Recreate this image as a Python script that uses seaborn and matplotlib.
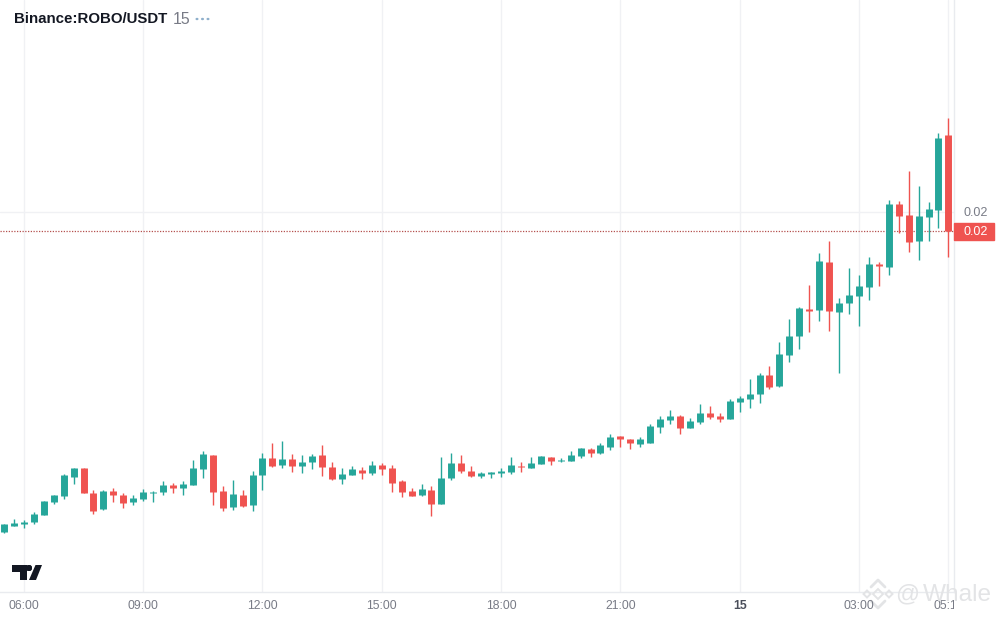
import matplotlib
matplotlib.use("Agg")
import matplotlib.pyplot as plt
from matplotlib.patches import Circle, Polygon, Rectangle
import pandas as pd
import seaborn as sns

# prices are kept as counts of this tick size
TICK = 0.00005

opens = [88, 94, 96, 98, 105, 118, 124, 143, 152, 127, 111, 129, 125, 118, 121, 127,
         128, 135, 132, 135, 151, 165, 129, 113, 125, 115, 145, 162, 155, 161, 154, 158,
         165, 153, 141, 145, 150, 147, 155, 152, 139, 129, 125, 130, 116, 142, 157, 149,
         144, 146, 147, 148, 154, 152, 156, 163, 159, 159, 164, 171, 167, 173, 184, 181,
         176, 177, 193, 200, 204, 192, 198, 207, 204, 201, 218, 221, 226, 245, 234, 265,
         284, 311, 310, 358, 308, 317, 324, 333, 356, 353, 416, 405, 379, 403, 410, 485]
closes = [96, 97, 98, 106, 119, 125, 145, 152, 127, 109, 129, 125, 117, 122, 128, 128,
          135, 132, 136, 152, 166, 128, 112, 126, 114, 145, 162, 154, 161, 154, 158, 164,
          153, 141, 146, 151, 147, 155, 151, 137, 128, 124, 131, 116, 142, 157, 149, 144,
          147, 148, 149, 155, 153, 157, 164, 159, 160, 165, 172, 167, 175, 183, 181, 177,
          181, 194, 201, 204, 192, 199, 207, 203, 201, 219, 222, 226, 245, 233, 266, 284,
          312, 309, 359, 309, 317, 325, 334, 356, 354, 416, 404, 378, 404, 411, 482, 389]
highs = [96, 101, 100, 108, 119, 125, 146, 152, 152, 130, 130, 132, 127, 125, 131, 129,
         139, 137, 139, 160, 169, 165, 134, 140, 130, 149, 167, 177, 179, 166, 165, 166,
         175, 158, 152, 154, 153, 159, 157, 155, 140, 132, 136, 134, 163, 167, 165, 154,
         148, 148, 152, 163, 158, 163, 164, 163, 162, 169, 172, 172, 177, 186, 184, 181,
         183, 196, 204, 210, 205, 202, 216, 214, 207, 221, 224, 241, 247, 254, 278, 301,
         313, 335, 367, 379, 322, 352, 345, 363, 358, 420, 419, 449, 434, 418, 487, 502]
lows = [87, 94, 92, 96, 105, 116, 121, 136, 127, 106, 110, 118, 112, 115, 119, 118,
        125, 127, 125, 135, 142, 115, 109, 110, 113, 109, 130, 153, 152, 148, 147, 151,
        144, 140, 136, 145, 141, 145, 145, 128, 123, 124, 124, 104, 116, 140, 147, 143,
        142, 142, 143, 146, 148, 152, 156, 155, 158, 159, 162, 163, 166, 170, 173, 171,
        173, 177, 187, 196, 186, 192, 196, 201, 198, 201, 208, 212, 217, 231, 233, 258,
        271, 288, 299, 289, 247, 306, 294, 320, 334, 345, 387, 368, 360, 379, 392, 363]

tick_positions = [2, 14, 26, 38, 50, 62, 74, 86, 95]
tick_labels = ["06:00", "09:00", "12:00", "15:00", "18:00", "21:00", "15", "03:00", "05:15"]

GREEN = "#26a69a"
RED = "#ef5350"
GRID = "#f0f1f4"
GREY = "#787b86"

sns.set_theme(style="white")
plt.rcParams["font.family"] = ["Liberation Sans", "DejaVu Sans"]


def px(x, y):
    # figure fraction from pixel position, y measured from the top
    return x / 1000, 1 - y / 620


rows_wick = []
rows_body = []
for i in range(len(opens)):
    side = "up" if closes[i] >= opens[i] else "down"
    rows_wick.append((i, highs[i] * TICK, side))
    rows_wick.append((i, lows[i] * TICK, side))
    rows_body.append((i, opens[i] * TICK, side))
    rows_body.append((i, closes[i] * TICK, side))
wicks = pd.DataFrame(rows_wick, columns=["candle", "price", "side"])
bodies = pd.DataFrame(rows_body, columns=["candle", "price", "side"])
palette = {"up": GREEN, "down": RED}

fig = plt.figure(figsize=(10, 6.2), dpi=100)
ax = fig.add_axes([0, 28 / 620, 0.954, 592 / 620])

for frame, width in ((wicks, 1.0), (bodies, 5.0)):
    sns.lineplot(data=frame, x="candle", y="price", hue="side", units="candle",
                 estimator=None, sort=False, palette=palette, legend=False,
                 linewidth=width, solid_capstyle="butt", ax=ax, zorder=3)

ax.set_xlim(-0.40, 95.56)
ax.set_ylim(28 * TICK, 620 * TICK)
ax.set_xlabel("")
ax.set_ylabel("")
ax.set_xticks(tick_positions)
ax.set_xticklabels([])
ax.set_yticks([408 * TICK])
ax.set_yticklabels([])
ax.tick_params(length=0)
ax.grid(True, color=GRID, linewidth=1)
ax.set_axisbelow(True)
for name in ("left", "top"):
    ax.spines[name].set_visible(False)
for name in ("bottom", "right"):
    ax.spines[name].set_color("#e9ebef")
    ax.spines[name].set_linewidth(1)

# last price line
ax.axhline(closes[-1] * TICK, color="#b5504e", linewidth=0.9, linestyle=(0, (1, 1.2)), zorder=2)

# header
x, y = px(14, 19)
fig.text(x, y, "Binance:ROBO/USDT", fontsize=10.8, fontweight="bold", color="#131722", va="center")
x, y = px(173, 19)
fig.text(x, y, "15", fontsize=11.4, color=GREY, va="center")
for dot in (197, 202.5, 208):
    fig.add_artist(Circle(px(dot, 19), 0.0008, color="#8fb0cc", transform=fig.transFigure))

# price scale labels
x, y = px(975.5, 213)
fig.text(x, y, f"{408 * TICK:.2f}", fontsize=9, color=GREY, ha="center", va="center")
fig.add_artist(Rectangle(px(954, 240), 0.040, 17 / 620, color=RED, transform=fig.transFigure))
x, y = px(975.5, 232)
fig.text(x, y, f"{closes[-1] * TICK:.2f}", fontsize=9, color="white", ha="center", va="center")

# time labels, the last one is cut off by the price scale
clip = Rectangle((0, 0), 954, 620, transform=None)
for pos, label in zip(tick_positions, tick_labels):
    screen_x = ax.transData.transform((pos, 0))[0]
    bold = label == "15"
    t = fig.text(screen_x / 1000, px(0, 606)[1], label, fontsize=8.8,
                 fontweight="bold" if bold else "normal",
                 color="#4a4e5a" if bold else GREY, ha="center", va="center")
    t.set_clip_path(clip)

# tradingview logo
DARK = "#131722"
logo_bar = [(12, 565), (27, 565), (27, 580), (20, 580), (20, 572), (12, 572)]
logo_slash = [(35.5, 565), (42, 565), (36, 580), (29, 580)]
for shape in (logo_bar, logo_slash):
    fig.add_artist(Polygon([px(*p) for p in shape], closed=True, color=DARK, lw=0,
                           transform=fig.transFigure))
fig.add_artist(Polygon([px(29 + dx, 568 + dy) for dx, dy in
                        [(-3, -1.5), (-1.5, -3), (1.5, -3), (3, -1.5), (3, 1.5), (1.5, 3), (-1.5, 3), (-3, 1.5)]],
                       closed=True, color=DARK, lw=0, transform=fig.transFigure))

# watermark
MARK = "#e3e4e6"
for cx, cy, r in [(878, 594, 5), (867, 594, 3.5), (889, 594, 3.5)]:
    fig.add_artist(Polygon([px(cx - r, cy), px(cx, cy - r), px(cx + r, cy), px(cx, cy + r)],
                           closed=True, fill=False, edgecolor=MARK, lw=1.4,
                           transform=fig.transFigure))
for sign in (-1, 1):
    chevron = [(871, 594 + sign * 7), (878, 594 + sign * 14), (885, 594 + sign * 7)]
    fig.add_artist(plt.Line2D(*zip(*[px(*p) for p in chevron]), color=MARK, lw=2,
                              transform=fig.transFigure))
x, y = px(907, 594)
fig.text(x, y, "@", fontsize=17, color=MARK, ha="center", va="center")
x, y = px(923, 595)
fig.text(x, y, "Whale", fontsize=17.6, color=MARK, ha="left", va="center")

fig.savefig("out.png", dpi=100)
